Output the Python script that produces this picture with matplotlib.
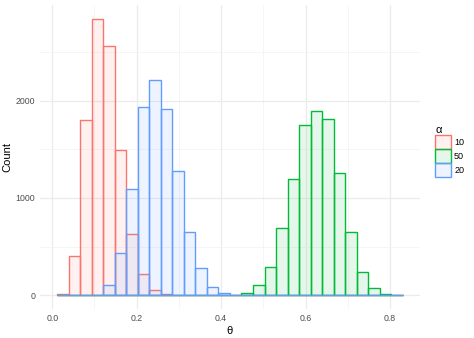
"""
Histogram of theta samples for three alpha values (ggplot-like look).
"""
import numpy as np
import matplotlib.pyplot as plt
from matplotlib.patches import Patch
from matplotlib.colors import to_rgba

# bin edges (30 bins)
bin_lo, bin_hi, n_bins = 0.012, 0.830, 30

# counts per bin
counts_10 = [15, 404, 1805, 2843, 2562, 1497, 627, 216, 54, 10,
             0, 0, 0, 0, 0, 0, 0, 0, 0, 0,
             0, 0, 0, 0, 0, 0, 0, 0, 0, 0]
counts_50 = [0, 0, 0, 0, 0, 0, 0, 0, 0, 0,
             0, 0, 0, 0, 0, 2, 27, 106, 294, 695,
             1195, 1747, 1891, 1812, 1257, 647, 243, 72, 13, 2]
counts_20 = [0, 0, 0, 5, 103, 432, 1092, 1932, 2213, 1915,
             1281, 651, 284, 85, 27, 5, 0, 0, 0, 0,
             0, 0, 0, 0, 0, 0, 0, 0, 0, 0]

groups = ["10", "50", "20"]
colors = {"10": "#F8766D", "50": "#00BA38", "20": "#619CFF"}
series = {"10": counts_10, "50": counts_50, "20": counts_20}

plt.rcParams["font.family"] = ["Liberation Sans", "DejaVu Sans"]

fig = plt.figure(figsize=(4.74, 3.38), dpi=100)
ax = fig.add_axes([0.0844, 0.0858, 0.8016, 0.8992])

edges = np.linspace(bin_lo, bin_hi, n_bins + 1)
widths = np.diff(edges)

for g in groups:
    ax.bar(edges[:-1], series[g], width=widths, align="edge",
           facecolor=to_rgba(colors[g], 0.1), edgecolor=colors[g],
           linewidth=1.0, zorder=3)

# axes range like ggplot's 5% expansion
span = bin_hi - bin_lo
ax.set_xlim(bin_lo - 0.05 * span, bin_hi + 0.05 * span)
ymax = max(max(c) for c in series.values())
ax.set_ylim(-0.05 * ymax, 1.05 * ymax)

ax.set_xticks([0.0, 0.2, 0.4, 0.6, 0.8])
ax.set_xticklabels(["0.0", "0.2", "0.4", "0.6", "0.8"])
ax.set_xticks([0.1, 0.3, 0.5, 0.7], minor=True)
ax.set_yticks([0, 1000, 2000])
ax.set_yticks([500, 1500, 2500], minor=True)

ax.grid(which="major", color="#EBEBEB", linewidth=0.9, zorder=0)
ax.grid(which="minor", color="#F2F2F2", linewidth=0.5, zorder=0)
ax.set_axisbelow(True)
for s in ax.spines.values():
    s.set_visible(False)
ax.tick_params(which="both", length=0, labelsize=6.3, labelcolor="#4D4D4D", pad=3.5)

ax.set_xlabel("θ", fontsize=8, labelpad=2)
ax.set_ylabel("Count", fontsize=8, labelpad=2.5)

handles = [Patch(facecolor=to_rgba(colors[g], 0.1), edgecolor=colors[g],
                 linewidth=1.0, label=g) for g in groups]
leg = fig.legend(handles=handles, title="α", loc="upper left",
                 bbox_to_anchor=(0.918, 0.63), frameon=False,
                 fontsize=6.5, title_fontsize=8, handlelength=1.75,
                 handleheight=2.0, handletextpad=0.35, labelspacing=0.0,
                 borderaxespad=0, borderpad=0)
leg._legend_box.align = "left"

fig.savefig("out.png", dpi=100)
